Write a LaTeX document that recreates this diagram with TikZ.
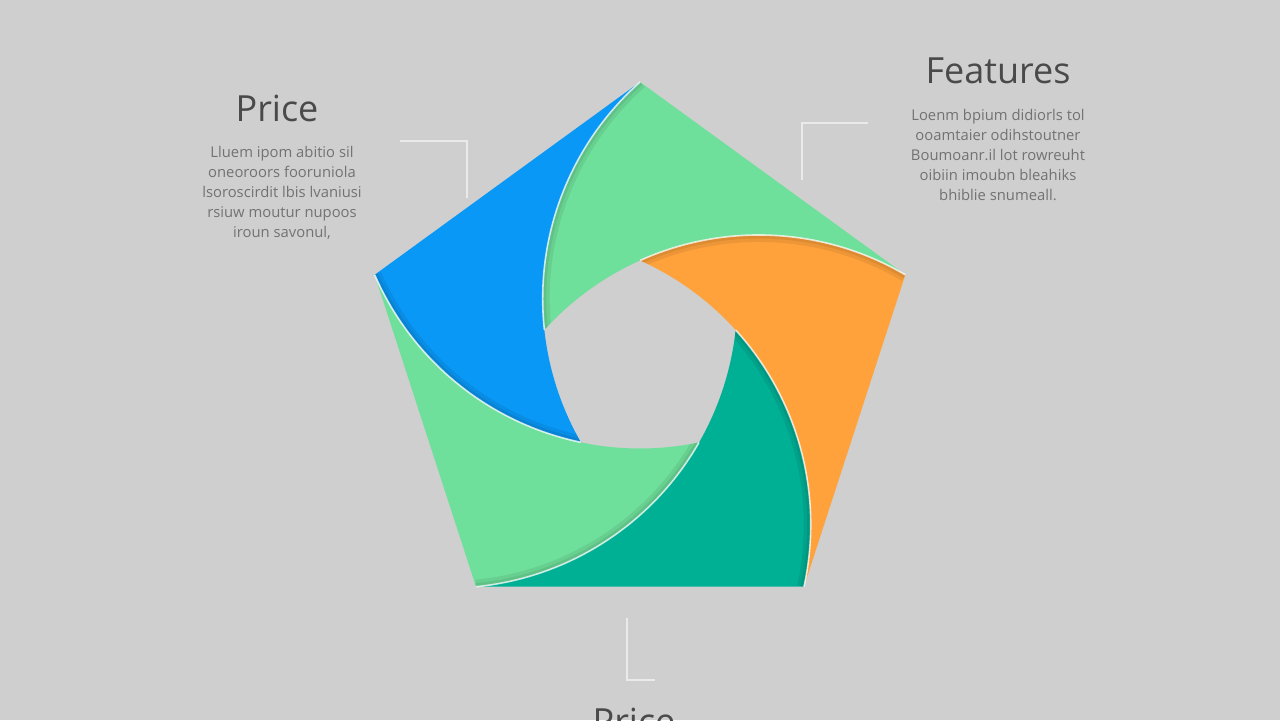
\documentclass[tikz,border=0pt]{standalone}
\usepackage{fontspec}
\setmainfont{Open Sans}
\definecolor{bg}{HTML}{CFCFCF}
\definecolor{cgreen}{HTML}{6FE09B}
\definecolor{cblue}{HTML}{0A98F6}
\definecolor{corange}{HTML}{FFA23C}
\definecolor{cteal}{HTML}{00B095}
\definecolor{ctitle}{HTML}{4A4A4A}
\definecolor{cbody}{HTML}{727272}
\definecolor{cline}{HTML}{EAEAEA}
\begin{document}
\begin{tikzpicture}[x=0.5pt,y=0.5pt,
  title/.style={font=\fontsize{18}{22}\selectfont, text=ctitle, inner sep=0pt},
  body/.style={font=\fontsize{7.4}{10}\selectfont, text=cbody, align=center, inner sep=0pt},
  bracket/.style={draw=cline, line width=0.8pt},
  blade/.style={insert path={(0,277) -- (263.4,85.6) arc[start angle=59.6, end angle=137.8, radius=287.5] arc[start angle=186.2, end angle=131.6, radius=287.5] -- cycle}},
  bladeedge/.style={insert path={(0,277) arc[start angle=131.6, end angle=186.2, radius=287.5]}},
]
\fill[bg] (0,0) rectangle (1280,720);
\clip (0,0) rectangle (1280,720);
\begin{scope}[shift={(640,359)}, scale=1.0072]
\foreach \k/\c in {0/cgreen,1/cblue,2/cgreen,3/cteal,4/corange}{
  \begin{scope}[rotate=72*\k]
    \fill[\c] [blade];
    \begin{scope}
      \clip [blade];
      \draw[black, opacity=0.07, line width=7pt] [bladeedge];
      \draw[black, opacity=0.07, line width=3.5pt] [bladeedge];
    \end{scope}
  \end{scope}
}
\foreach \k in {0,...,4}{
  \begin{scope}[rotate=72*\k]
    \draw[white, opacity=0.75, line width=0.8pt] [bladeedge];
  \end{scope}
}
\end{scope}

% left block
\node[title] (pricetop) at (277,612) {Price};
\node[body] (pricetext) at (282,527) {Lluem ipom abitio sil\\oneoroors fooruniola\\lsoroscirdit lbis lvaniusi\\rsiuw moutur nupoos\\iroun savonul,};
% right block
\node[title] (features) at (998,649) {Features};
\node[body] (featurestext) at (998,565) {Loenm bpium didiorls tol\\ooamtaier odihstoutner\\Boumoanr.il lot rowreuht\\oibiin imoubn bleahiks\\bhiblie snumeall.};
% bottom
\node[title, anchor=base] (pricebot) at (634,-14) {Price};

% brackets
\coordinate (la) at (400,579);
\coordinate (lb) at (467,579);
\coordinate (lc) at (467,522);
\draw[bracket] (la) -- (lb) -- (lc);
\coordinate (ra) at (868,597);
\coordinate (rb) at (802,597);
\coordinate (rc) at (802,540);
\draw[bracket] (ra) -- (rb) -- (rc);
\coordinate (ba) at (627,102);
\coordinate (bb) at (627,40);
\coordinate (bc) at (655,40);
\draw[bracket] (ba) -- (bb) -- (bc);
\end{tikzpicture}
\end{document}
